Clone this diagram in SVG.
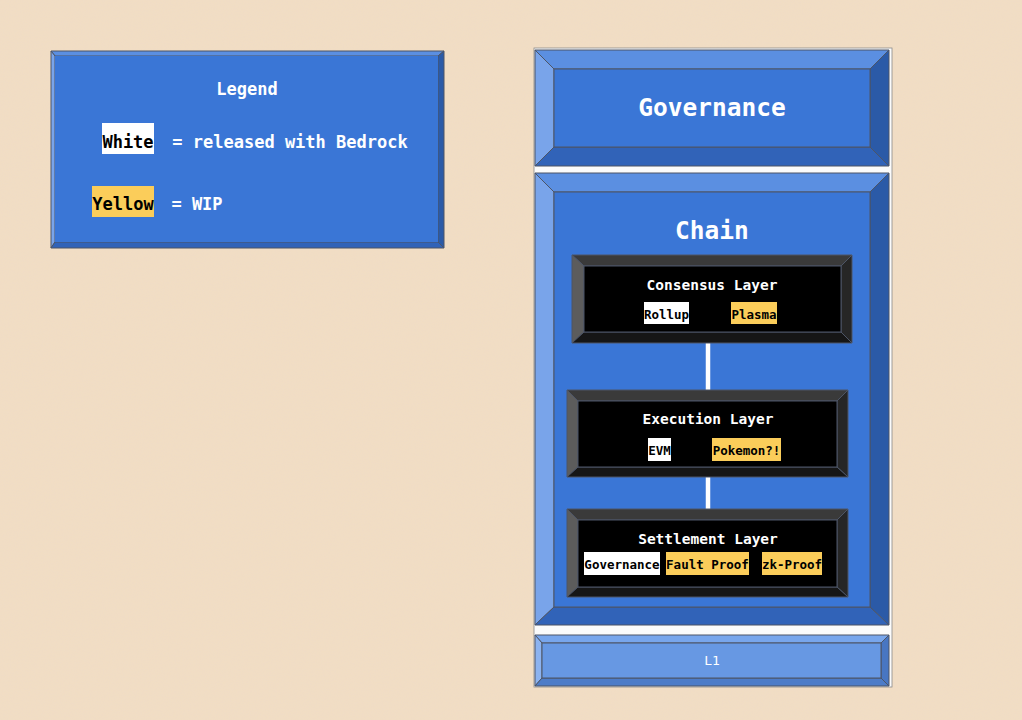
<svg xmlns="http://www.w3.org/2000/svg" width="1022" height="720" viewBox="0 0 1022 720">
<defs>
<filter id="noise" x="0" y="0" width="100%" height="100%">
<feTurbulence type="fractalNoise" baseFrequency="0.85" numOctaves="2" seed="3" result="n"/>
<feColorMatrix in="n" type="matrix" values="0 0 0 0 0.85  0 0 0 0 0.7  0 0 0 0 0.6  0 0 0 0.5 -0.12"/>
<feComposite in2="SourceGraphic" operator="in"/>
</filter>
<style>
.t{font-family:"DejaVu Sans Mono","Liberation Mono",monospace;text-anchor:middle;font-weight:bold}
.t.n{font-weight:normal}
.ln{stroke:#4d5566;stroke-width:1}
.bt{fill:#5b8fe1}.bl{fill:#79a4ea}.br{fill:#2b5aa7}.bb{fill:#3163b8}.bf{fill:#3a76d6}
.kt{fill:#3a3a3a}.kl{fill:#5c5c5c}.kr{fill:#262626}.kb{fill:#161616}.kf{fill:#000}
.lt{fill:#78a6ec}.ll{fill:#8cb3f0}.lr{fill:#4876c2}.lb{fill:#4d7cc8}.lf{fill:#6798e3}
.wh{fill:#fff}.ye{fill:#fbcd5a}
</style>
</defs>
<rect width="1022" height="720" fill="#f1ddc3"/>
<rect width="1022" height="720" fill="#f1ddc3" filter="url(#noise)"/>
<rect x="534" y="48" width="358" height="639" fill="#fbfbfb" stroke="#8a8a8a" stroke-width="0.8"/>

<g id="legend">
<polygon class="bt ln" points="51,51 444,51 438,56 55,56"/>
<polygon class="bl ln" points="51,51 55,56 55,242 51,248"/>
<polygon class="br ln" points="444,51 444,248 438,242 438,56"/>
<polygon class="bb ln" points="51,248 55,242 438,242 444,248"/>
<rect class="bf" x="55" y="56" width="383" height="186"/>
<text class="t" x="247" y="95" font-size="17" fill="#fff">Legend</text>
<rect class="wh" x="102" y="123" width="52" height="31"/>
<text class="t" x="128" y="148" font-size="17" fill="#000">White</text>
<text class="t" x="290" y="148" font-size="17" fill="#fff">= released with Bedrock</text>
<rect class="ye" x="92" y="186" width="62" height="31"/>
<text class="t" x="123" y="210" font-size="17" fill="#000">Yellow</text>
<text class="t" x="197" y="210" font-size="17" fill="#fff">= WIP</text>
</g>

<g id="governance">
<polygon class="bt ln" points="535,50 889,50 870,69 554,69"/>
<polygon class="bl ln" points="535,50 554,69 554,147 535,166"/>
<polygon class="br ln" points="889,50 889,166 870,147 870,69"/>
<polygon class="bb ln" points="535,166 554,147 870,147 889,166"/>
<rect class="bf ln" x="554" y="69" width="316" height="78"/>
<text class="t" x="712" y="116" font-size="24.5" fill="#fff">Governance</text>
</g>

<g id="chain">
<polygon class="bt ln" points="535,173 889,173 870,192 554,192"/>
<polygon class="bl ln" points="535,173 554,192 554,607 535,625"/>
<polygon class="br ln" points="889,173 889,625 870,607 870,192"/>
<polygon class="bb ln" points="535,625 554,607 870,607 889,625"/>
<rect class="bf ln" x="554" y="192" width="316" height="415"/>
<text class="t" x="712" y="239" font-size="24.5" fill="#fff">Chain</text>
</g>

<g id="connectors">
<line x1="708" y1="343" x2="708" y2="390" stroke="#fff" stroke-width="4.5"/>
<line x1="708" y1="477" x2="708" y2="509" stroke="#fff" stroke-width="4.5"/>
</g>

<g id="consensus">
<polygon class="kt ln" points="572,255 852,255 841,266 584,266"/>
<polygon class="kl ln" points="572,255 584,266 584,332 572,343"/>
<polygon class="kr ln" points="852,255 852,343 841,332 841,266"/>
<polygon class="kb ln" points="572,343 584,332 841,332 852,343"/>
<rect class="kf ln" x="584" y="266" width="257" height="66"/>
<text class="t" x="712" y="290" font-size="14.5" fill="#fff">Consensus Layer</text>
<rect class="wh" x="644" y="302" width="45" height="22"/>
<text class="t" x="666.5" y="319" font-size="12.5" fill="#000">Rollup</text>
<rect class="ye" x="731" y="302" width="46" height="22"/>
<text class="t" x="754" y="319" font-size="12.5" fill="#000">Plasma</text>
</g>

<g id="execution">
<polygon class="kt ln" points="567,390 848,390 837,401 578,401"/>
<polygon class="kl ln" points="567,390 578,401 578,467 567,477"/>
<polygon class="kr ln" points="848,390 848,477 837,467 837,401"/>
<polygon class="kb ln" points="567,477 578,467 837,467 848,477"/>
<rect class="kf ln" x="578" y="401" width="259" height="66"/>
<text class="t" x="708" y="424" font-size="14.5" fill="#fff">Execution Layer</text>
<rect class="wh" x="648" y="438" width="23" height="23"/>
<text class="t" x="659.5" y="455" font-size="12.5" fill="#000">EVM</text>
<rect class="ye" x="712" y="438" width="69" height="23"/>
<text class="t" x="746.5" y="455" font-size="12.5" fill="#000">Pokemon?!</text>
</g>

<g id="settlement">
<polygon class="kt ln" points="567,509 848,509 837,520 578,520"/>
<polygon class="kl ln" points="567,509 578,520 578,587 567,597"/>
<polygon class="kr ln" points="848,509 848,597 837,587 837,520"/>
<polygon class="kb ln" points="567,597 578,587 837,587 848,597"/>
<rect class="kf ln" x="578" y="520" width="259" height="67"/>
<text class="t" x="708" y="544" font-size="14.5" fill="#fff">Settlement Layer</text>
<rect class="wh" x="584" y="552" width="76" height="23"/>
<text class="t" x="622" y="569" font-size="12.5" fill="#000">Governance</text>
<rect class="ye" x="666" y="552" width="83" height="23"/>
<text class="t" x="707.5" y="569" font-size="12.5" fill="#000">Fault Proof</text>
<rect class="ye" x="762" y="552" width="60" height="23"/>
<text class="t" x="792" y="569" font-size="12.5" fill="#000">zk-Proof</text>
</g>

<g id="l1">
<polygon class="lt ln" points="535,635 889,635 881,643 542,643"/>
<polygon class="ll ln" points="535,635 542,643 542,678 535,686"/>
<polygon class="lr ln" points="889,635 889,686 881,678 881,643"/>
<polygon class="lb ln" points="535,686 542,678 881,678 889,686"/>
<rect class="lf ln" x="542" y="643" width="339" height="35"/>
<text class="t n" x="712" y="665" font-size="13" fill="#fff">L1</text>
</g>
</svg>
